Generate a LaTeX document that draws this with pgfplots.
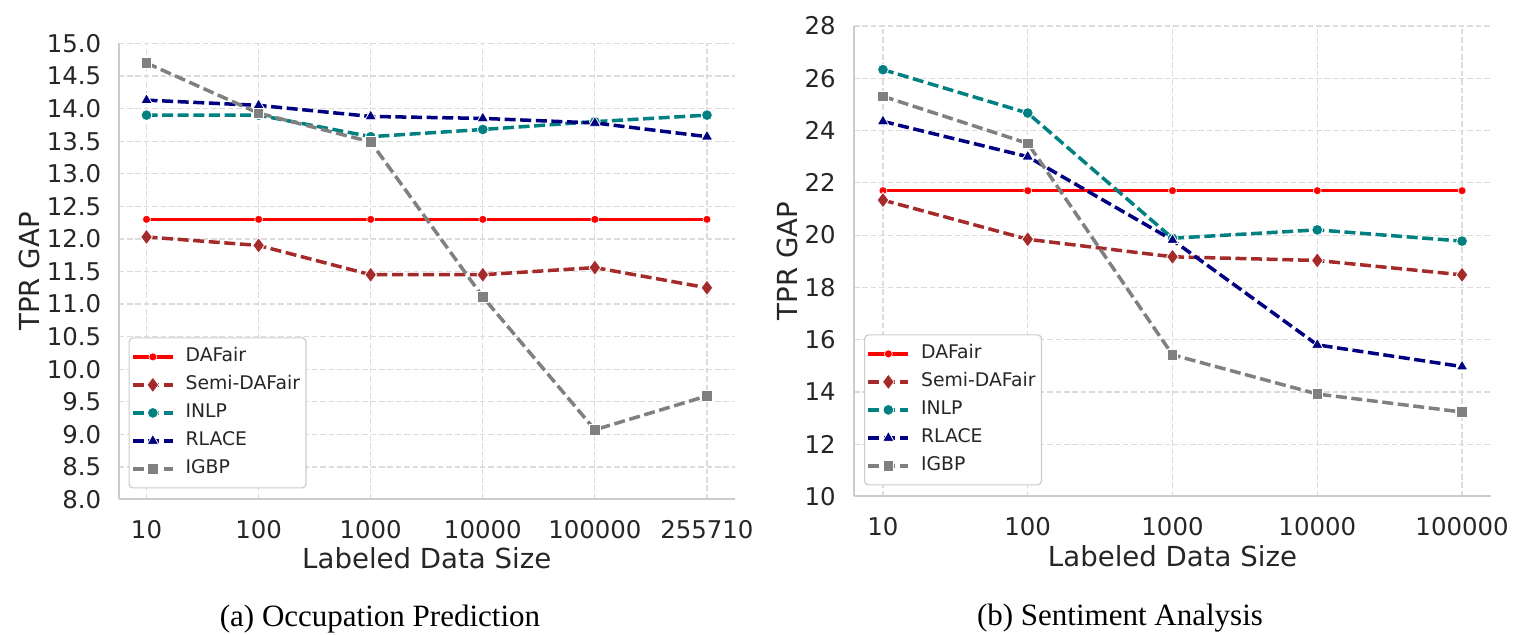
\documentclass[border=0pt]{standalone}
\usepackage{fontspec}
\setmainfont{DejaVu Sans}
\newfontfamily\capfont{Liberation Serif}
\usepackage{pgfplots}
\usepackage{pgfplotstable}
\pgfplotsset{compat=1.18}
\usetikzlibrary{plotmarks}

\definecolor{txt}{HTML}{262626}
\definecolor{spine}{HTML}{CCCCCC}
\definecolor{gridc}{HTML}{DCDCDC}
\definecolor{cDA}{HTML}{FF0000}
\definecolor{cSemi}{HTML}{A52A2A}
\definecolor{cINLP}{HTML}{008080}
\definecolor{cRL}{HTML}{000080}
\definecolor{cIG}{HTML}{808080}

% (a) occupation prediction
\pgfplotstableread{
x dafair semi inlp rlace igbp
0 12.30 12.03 13.90 14.13 14.70
1 12.30 11.90 13.90 14.05 13.93
2 12.30 11.45 13.57 13.88 13.49
3 12.30 11.45 13.68 13.85 11.11
4 12.30 11.56 13.80 13.78 9.07
5 12.30 11.25 13.90 13.57 9.59
}\occ

% (b) sentiment analysis
\pgfplotstableread{
x dafair semi inlp rlace igbp
0 21.70 21.34 26.33 24.35 25.31
1 21.70 19.84 24.67 23.00 23.51
2 21.70 19.17 19.88 19.81 15.42
3 21.70 19.03 20.20 15.80 13.92
4 21.70 18.48 19.77 14.97 13.23
}\sent

\pgfplotsset{
  gapaxis/.style={
    scale only axis,
    axis lines=left,
    axis line style={-, draw=spine, line width=1pt},
    major tick length=0pt,
    grid=major,
    major grid style={dash pattern=on 2.8pt off 1.4pt, draw=gridc, line width=0.6pt},
    /pgf/number format/assume math mode=true,
    ticklabel style={font=\fontsize{12.2}{14}\selectfont, text=txt},
    xticklabel style={anchor=north, inner sep=0pt, yshift=-10pt},
    yticklabel style={anchor=east, inner sep=0pt, xshift=-8.5pt},
    label style={font=\fontsize{13.8}{16}\selectfont, text=txt},
    xlabel={Labeled Data Size},
    ylabel={TPR GAP},
    legend cell align=left,
    legend style={
      at={(axis description cs:0,0)}, anchor=south west,
      xshift=5pt, yshift=5.5pt,
      draw=spine, line width=0.6pt, rounded corners=2pt, fill=white,
      inner xsep=1pt, inner ysep=3pt,
      font=\fontsize{9.4}{11}\selectfont, text=txt,
      nodes={inner sep=2pt, text height=7pt, text depth=2pt},
      row sep=1pt, column sep=3.5pt,
    },
    legend image code/.code={
      \draw[mark repeat=2, mark phase=2, #1]
        plot coordinates {(0pt,0pt) (10pt,0pt) (20pt,0pt)};
    },
  },
  sDA/.style={cDA, solid, line width=1.75pt, mark=*, mark size=2pt,
    mark options={solid, fill=cDA, draw=white, line width=0.3pt}},
  sSemi/.style={cSemi, dash pattern=on 5.5pt off 2.3pt, line width=1.75pt,
    mark=diamond*, mark size=3.9pt,
    mark options={solid, fill=cSemi, draw=white, line width=0.4pt}},
  sINLP/.style={cINLP, dash pattern=on 5.5pt off 2.3pt, line width=1.75pt,
    mark=*, mark size=2.7pt,
    mark options={solid, fill=cINLP, draw=white, line width=0.4pt}},
  sRL/.style={cRL, dash pattern=on 5.5pt off 2.3pt, line width=1.75pt,
    mark=triangle*, mark size=3.3pt,
    mark options={solid, fill=cRL, draw=white, line width=0.4pt}},
  sIG/.style={cIG, dash pattern=on 5.5pt off 2.3pt, line width=1.75pt,
    mark=square*, mark size=2.6pt,
    mark options={solid, fill=cIG, draw=white, line width=0.4pt}},
}

\begin{document}
\begin{tikzpicture}
\useasboundingbox (0,0) rectangle (759.5pt,317.5pt);

\begin{axis}[gapaxis,
  at={(59.25pt,67.75pt)}, anchor=south west,
  width=308.25pt, height=228pt,
  xmin=-0.25, xmax=5.25, ymin=8, ymax=15,
  xtick={0,1,2,3,4,5},
  xticklabels={10,100,1000,10000,100000,255710},
  ytick={8,8.5,9,9.5,10,10.5,11,11.5,12,12.5,13,13.5,14,14.5,15},
  yticklabel style={/pgf/number format/.cd, fixed, fixed zerofill, precision=1},
  xlabel style={at={(axis description cs:0.5,0)}, anchor=center, yshift=-29.25pt},
  ylabel style={at={(axis description cs:-0.1452,0.5)}, anchor=center},
]
\addplot[sDA] table[x=x, y=dafair] {\occ};
\addlegendentry{DAFair}
\addplot[sSemi] table[x=x, y=semi] {\occ};
\addlegendentry{Semi-DAFair}
\addplot[sINLP] table[x=x, y=inlp] {\occ};
\addlegendentry{INLP}
\addplot[sRL] table[x=x, y=rlace] {\occ};
\addlegendentry{RLACE}
\addplot[sIG] table[x=x, y=igbp] {\occ};
\addlegendentry{IGBP}
\end{axis}

\begin{axis}[gapaxis,
  at={(427pt,69.25pt)}, anchor=south west,
  width=318.5pt, height=235.25pt,
  xmin=-0.2, xmax=4.2, ymin=10, ymax=28,
  xtick={0,1,2,3,4},
  xticklabels={10,100,1000,10000,100000},
  ytick={10,12,14,16,18,20,22,24,26,28},
  yticklabel style={xshift=-0.5pt},
  xlabel style={at={(axis description cs:0.5,0)}, anchor=center, yshift=-29.75pt},
  ylabel style={at={(axis description cs:-0.1052,0.5)}, anchor=center},
]
\addplot[sDA] table[x=x, y=dafair] {\sent};
\addlegendentry{DAFair}
\addplot[sSemi] table[x=x, y=semi] {\sent};
\addlegendentry{Semi-DAFair}
\addplot[sINLP] table[x=x, y=inlp] {\sent};
\addlegendentry{INLP}
\addplot[sRL] table[x=x, y=rlace] {\sent};
\addlegendentry{RLACE}
\addplot[sIG] table[x=x, y=igbp] {\sent};
\addlegendentry{IGBP}
\end{axis}

\node[font=\capfont\fontsize{15.5}{18}\selectfont] at (190pt,7.75pt) {(a) Occupation Prediction};
\node[font=\capfont\fontsize{15.5}{18}\selectfont] at (560pt,8.5pt) {(b) Sentiment Analysis};
\end{tikzpicture}
\end{document}
